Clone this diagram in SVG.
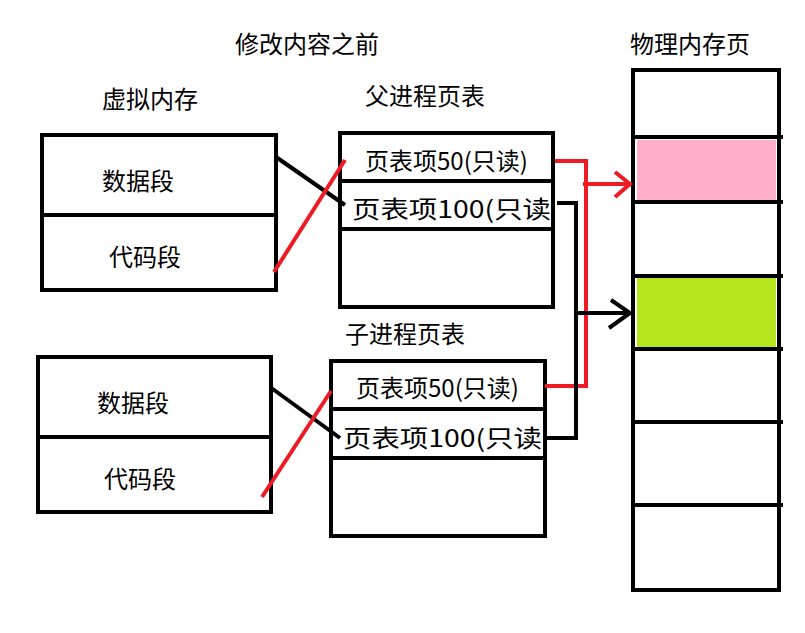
<svg xmlns="http://www.w3.org/2000/svg" width="805" height="633" viewBox="0 0 805 633">
<defs>
<style>
.b{fill:none;stroke:#000;stroke-width:4}
.t{font-family:"Microsoft YaHei","Noto Sans CJK SC",sans-serif;font-size:24px;fill:#000}
.r{stroke:#ed1c24;stroke-width:4;fill:none}
.k{stroke:#000;stroke-width:4;fill:none}
</style>
</defs>
<rect width="805" height="633" fill="#fff"/>
<text class="t" x="307" y="53" text-anchor="middle">修改内容之前</text>
<text class="t" x="690" y="53" text-anchor="middle">物理内存页</text>
<g id="vm1">
<text class="t" x="150" y="108" text-anchor="middle">虚拟内存</text>
<rect class="b" x="42" y="135" width="234" height="155"/>
<line class="b" x1="42" y1="215" x2="276" y2="215"/>
<text class="t" x="138" y="190" text-anchor="middle">数据段</text>
<text class="t" x="145" y="266" text-anchor="middle">代码段</text>
</g>
<g id="vm2">
<rect class="b" x="38" y="357" width="233" height="155"/>
<line class="b" x1="38" y1="437" x2="271" y2="437"/>
<text class="t" x="133" y="412" text-anchor="middle">数据段</text>
<text class="t" x="140" y="488" text-anchor="middle">代码段</text>
</g>
<g id="parent">
<text class="t" x="425" y="105" text-anchor="middle">父进程页表</text>
<rect class="b" x="340" y="133" width="213" height="174"/>
<line class="b" x1="340" y1="181" x2="553" y2="181"/>
<line class="b" x1="340" y1="229" x2="553" y2="229"/>
<text class="t" x="365" y="170">页表项50(只读)</text>
<text class="t" x="352" y="218" textLength="199" lengthAdjust="spacingAndGlyphs">页表项100(只读</text>
</g>
<g id="child">
<text class="t" x="405" y="343" text-anchor="middle">子进程页表</text>
<rect class="b" x="331" y="361" width="214" height="175"/>
<line class="b" x1="331" y1="409" x2="545" y2="409"/>
<line class="b" x1="331" y1="458" x2="545" y2="458"/>
<text class="t" x="356" y="397">页表项50(只读)</text>
<text class="t" x="343" y="447" textLength="199" lengthAdjust="spacingAndGlyphs">页表项100(只读</text>
</g>
<g id="phys">
<rect x="637" y="140" width="139" height="61" fill="#ffaec9"/>
<rect x="637" y="278" width="139" height="70" fill="#b5e61d"/>
<rect class="b" x="633" y="70" width="146" height="520"/>
<g class="b">
<line x1="633" y1="137" x2="783" y2="137"/>
<line x1="633" y1="202" x2="783" y2="202"/>
<line x1="633" y1="276" x2="783" y2="276"/>
<line x1="633" y1="349" x2="783" y2="349"/>
<line x1="633" y1="422" x2="783" y2="422"/>
<line x1="633" y1="505" x2="783" y2="505"/>
</g>
</g>
<g id="connectors">
<line class="k" x1="276" y1="157" x2="345" y2="205"/>
<line class="r" x1="274" y1="272" x2="345" y2="160"/>
<line class="k" x1="270" y1="387" x2="340" y2="438"/>
<line class="r" x1="262" y1="497" x2="331" y2="391"/>
<polyline class="r" points="555,161 586,161 586,386 545,386"/>
<line class="r" x1="583" y1="184" x2="630" y2="184"/>
<polyline class="r" points="615,172 630,184 615,197"/>
<polyline class="k" points="557,203 576,203 576,438 546,438"/>
<line class="k" x1="576" y1="313" x2="630" y2="313"/>
<polyline class="k" points="611,300 630,313 609,328"/>
</g>
</svg>
